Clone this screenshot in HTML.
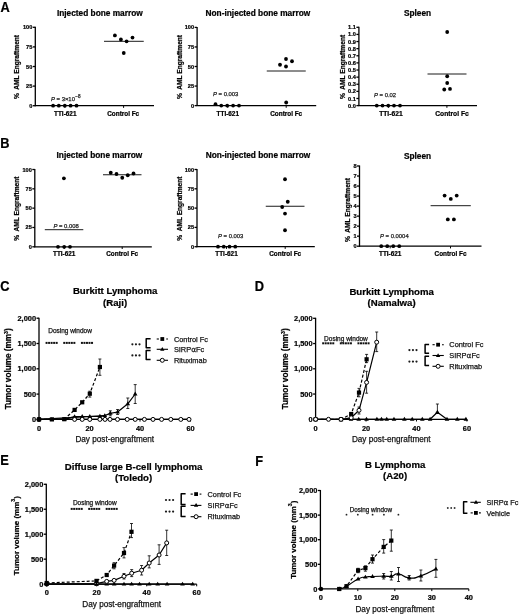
<!DOCTYPE html>
<html><head><meta charset="utf-8"><style>
html,body{margin:0;padding:0;background:#fff;}
svg{display:block;}
text{font-family:'Liberation Sans', Arial, sans-serif;}
</style></head><body>
<svg width="520" height="614" viewBox="0 0 520 614">
<rect width="520" height="614" fill="#fff"/>
<text transform="translate(0.5,12.3) scale(1,1.1)" x="0" y="0" font-size="12.8" font-weight="700" stroke="#000" stroke-width="0.22">A</text>
<text transform="translate(0.3,147.5) scale(1,1.1)" x="0" y="0" font-size="12.8" font-weight="700" stroke="#000" stroke-width="0.22">B</text>
<text transform="translate(0.3,290.5) scale(1,1.1)" x="0" y="0" font-size="12.8" font-weight="700" stroke="#000" stroke-width="0.22">C</text>
<text transform="translate(254.8,291) scale(1,1.1)" x="0" y="0" font-size="12.8" font-weight="700" stroke="#000" stroke-width="0.22">D</text>
<text transform="translate(0.3,465) scale(1,1.1)" x="0" y="0" font-size="12.8" font-weight="700" stroke="#000" stroke-width="0.22">E</text>
<text transform="translate(255.2,465.5) scale(1,1.1)" x="0" y="0" font-size="12.8" font-weight="700" stroke="#000" stroke-width="0.22">F</text>
<line x1="35.30" y1="26.80" x2="35.30" y2="106.20" stroke="#000" stroke-width="1.3"/>
<line x1="32.80" y1="105.70" x2="35.30" y2="105.70" stroke="#000" stroke-width="1.3"/>
<text x="32.30" y="107.72" font-size="5.6" font-weight="700" text-anchor="end" fill="#000" stroke="#000" stroke-width="0.22" >0</text>
<line x1="32.80" y1="86.10" x2="35.30" y2="86.10" stroke="#000" stroke-width="1.3"/>
<text x="32.30" y="88.12" font-size="5.6" font-weight="700" text-anchor="end" fill="#000" stroke="#000" stroke-width="0.22" >25</text>
<line x1="32.80" y1="66.50" x2="35.30" y2="66.50" stroke="#000" stroke-width="1.3"/>
<text x="32.30" y="68.52" font-size="5.6" font-weight="700" text-anchor="end" fill="#000" stroke="#000" stroke-width="0.22" >50</text>
<line x1="32.80" y1="46.90" x2="35.30" y2="46.90" stroke="#000" stroke-width="1.3"/>
<text x="32.30" y="48.92" font-size="5.6" font-weight="700" text-anchor="end" fill="#000" stroke="#000" stroke-width="0.22" >75</text>
<line x1="32.80" y1="27.30" x2="35.30" y2="27.30" stroke="#000" stroke-width="1.3"/>
<text x="32.30" y="29.32" font-size="5.6" font-weight="700" text-anchor="end" fill="#000" stroke="#000" stroke-width="0.22" >100</text>
<line x1="34.80" y1="105.70" x2="154.00" y2="105.70" stroke="#000" stroke-width="1.3"/>
<line x1="64.90" y1="105.70" x2="64.90" y2="107.90" stroke="#000" stroke-width="1.0"/>
<line x1="123.60" y1="105.70" x2="123.60" y2="107.90" stroke="#000" stroke-width="1.0"/>
<text x="65.25" y="115.80" font-size="6.4" font-weight="700" text-anchor="middle" fill="#000" stroke="#000" stroke-width="0.22" >TTI-621</text>
<text x="123.20" y="115.80" font-size="6.4" font-weight="700" text-anchor="middle" fill="#000" stroke="#000" stroke-width="0.22" >Control Fc</text>
<text x="99.80" y="15.60" font-size="8.3" font-weight="700" text-anchor="middle" fill="#000" stroke="#000" stroke-width="0.22" >Injected bone marrow</text>
<text transform="translate(19.18,67.00) rotate(-90)" x="0" y="0" font-size="6.6" font-weight="700" text-anchor="middle" stroke="#000" stroke-width="0.22">%&#160; AML Engraftment</text>
<line x1="104.00" y1="41.30" x2="143.75" y2="41.30" stroke="#000" stroke-width="0.9"/>
<circle cx="53.10" cy="105.70" r="1.9" fill="#000"/>
<circle cx="58.80" cy="105.70" r="1.9" fill="#000"/>
<circle cx="64.80" cy="105.70" r="1.9" fill="#000"/>
<circle cx="70.60" cy="105.70" r="1.9" fill="#000"/>
<circle cx="76.50" cy="105.70" r="1.9" fill="#000"/>
<circle cx="114.90" cy="35.40" r="1.9" fill="#000"/>
<circle cx="120.90" cy="39.50" r="1.9" fill="#000"/>
<circle cx="126.60" cy="41.30" r="1.9" fill="#000"/>
<circle cx="132.50" cy="37.60" r="1.9" fill="#000"/>
<circle cx="123.75" cy="53.00" r="1.9" fill="#000"/>
<text x="51.00" y="100.70" font-size="5.9" fill="#222" stroke="#222" stroke-width="0.25"><tspan font-style="italic">P</tspan> = 3×10<tspan font-size="4.6" dx="0.4" dy="-2.4">−8</tspan></text>
<line x1="197.10" y1="26.90" x2="197.10" y2="106.10" stroke="#000" stroke-width="1.3"/>
<line x1="194.60" y1="105.60" x2="197.10" y2="105.60" stroke="#000" stroke-width="1.3"/>
<text x="194.10" y="107.62" font-size="5.6" font-weight="700" text-anchor="end" fill="#000" stroke="#000" stroke-width="0.22" >0</text>
<line x1="194.60" y1="86.05" x2="197.10" y2="86.05" stroke="#000" stroke-width="1.3"/>
<text x="194.10" y="88.07" font-size="5.6" font-weight="700" text-anchor="end" fill="#000" stroke="#000" stroke-width="0.22" >25</text>
<line x1="194.60" y1="66.50" x2="197.10" y2="66.50" stroke="#000" stroke-width="1.3"/>
<text x="194.10" y="68.52" font-size="5.6" font-weight="700" text-anchor="end" fill="#000" stroke="#000" stroke-width="0.22" >50</text>
<line x1="194.60" y1="46.95" x2="197.10" y2="46.95" stroke="#000" stroke-width="1.3"/>
<text x="194.10" y="48.97" font-size="5.6" font-weight="700" text-anchor="end" fill="#000" stroke="#000" stroke-width="0.22" >75</text>
<line x1="194.60" y1="27.40" x2="197.10" y2="27.40" stroke="#000" stroke-width="1.3"/>
<text x="194.10" y="29.42" font-size="5.6" font-weight="700" text-anchor="end" fill="#000" stroke="#000" stroke-width="0.22" >100</text>
<line x1="196.60" y1="105.60" x2="316.20" y2="105.60" stroke="#000" stroke-width="1.3"/>
<line x1="227.80" y1="105.60" x2="227.80" y2="107.80" stroke="#000" stroke-width="1.0"/>
<line x1="286.20" y1="105.60" x2="286.20" y2="107.80" stroke="#000" stroke-width="1.0"/>
<text x="227.80" y="115.80" font-size="6.4" font-weight="700" text-anchor="middle" fill="#000" stroke="#000" stroke-width="0.22" >TTI-621</text>
<text x="286.20" y="115.80" font-size="6.4" font-weight="700" text-anchor="middle" fill="#000" stroke="#000" stroke-width="0.22" >Control Fc</text>
<text x="257.90" y="15.60" font-size="8.3" font-weight="700" text-anchor="middle" fill="#000" stroke="#000" stroke-width="0.22" >Non-injected bone marrow</text>
<text transform="translate(182.38,67.00) rotate(-90)" x="0" y="0" font-size="6.6" font-weight="700" text-anchor="middle" stroke="#000" stroke-width="0.22">%&#160; AML Engraftment</text>
<line x1="266.75" y1="71.00" x2="305.75" y2="71.00" stroke="#000" stroke-width="0.9"/>
<circle cx="215.50" cy="104.20" r="1.9" fill="#000"/>
<circle cx="221.25" cy="105.60" r="1.9" fill="#000"/>
<circle cx="227.20" cy="105.60" r="1.9" fill="#000"/>
<circle cx="233.10" cy="105.60" r="1.9" fill="#000"/>
<circle cx="239.00" cy="105.60" r="1.9" fill="#000"/>
<circle cx="280.00" cy="64.75" r="1.9" fill="#000"/>
<circle cx="286.00" cy="59.00" r="1.9" fill="#000"/>
<circle cx="286.00" cy="66.50" r="1.9" fill="#000"/>
<circle cx="292.00" cy="61.25" r="1.9" fill="#000"/>
<circle cx="286.20" cy="102.50" r="1.9" fill="#000"/>
<text x="213.00" y="96.30" font-size="5.9" fill="#222" stroke="#222" stroke-width="0.25"><tspan font-style="italic">P</tspan> = 0.003</text>
<line x1="358.90" y1="26.80" x2="358.90" y2="106.10" stroke="#000" stroke-width="1.3"/>
<line x1="356.40" y1="105.60" x2="358.90" y2="105.60" stroke="#000" stroke-width="1.3"/>
<text x="355.90" y="107.62" font-size="5.6" font-weight="700" text-anchor="end" fill="#000" stroke="#000" stroke-width="0.22" >0.0</text>
<line x1="356.40" y1="98.48" x2="358.90" y2="98.48" stroke="#000" stroke-width="1.3"/>
<text x="355.90" y="100.50" font-size="5.6" font-weight="700" text-anchor="end" fill="#000" stroke="#000" stroke-width="0.22" >0.1</text>
<line x1="356.40" y1="91.36" x2="358.90" y2="91.36" stroke="#000" stroke-width="1.3"/>
<text x="355.90" y="93.38" font-size="5.6" font-weight="700" text-anchor="end" fill="#000" stroke="#000" stroke-width="0.22" >0.2</text>
<line x1="356.40" y1="84.25" x2="358.90" y2="84.25" stroke="#000" stroke-width="1.3"/>
<text x="355.90" y="86.26" font-size="5.6" font-weight="700" text-anchor="end" fill="#000" stroke="#000" stroke-width="0.22" >0.3</text>
<line x1="356.40" y1="77.13" x2="358.90" y2="77.13" stroke="#000" stroke-width="1.3"/>
<text x="355.90" y="79.14" font-size="5.6" font-weight="700" text-anchor="end" fill="#000" stroke="#000" stroke-width="0.22" >0.4</text>
<line x1="356.40" y1="70.01" x2="358.90" y2="70.01" stroke="#000" stroke-width="1.3"/>
<text x="355.90" y="72.03" font-size="5.6" font-weight="700" text-anchor="end" fill="#000" stroke="#000" stroke-width="0.22" >0.5</text>
<line x1="356.40" y1="62.89" x2="358.90" y2="62.89" stroke="#000" stroke-width="1.3"/>
<text x="355.90" y="64.91" font-size="5.6" font-weight="700" text-anchor="end" fill="#000" stroke="#000" stroke-width="0.22" >0.6</text>
<line x1="356.40" y1="55.77" x2="358.90" y2="55.77" stroke="#000" stroke-width="1.3"/>
<text x="355.90" y="57.79" font-size="5.6" font-weight="700" text-anchor="end" fill="#000" stroke="#000" stroke-width="0.22" >0.7</text>
<line x1="356.40" y1="48.65" x2="358.90" y2="48.65" stroke="#000" stroke-width="1.3"/>
<text x="355.90" y="50.67" font-size="5.6" font-weight="700" text-anchor="end" fill="#000" stroke="#000" stroke-width="0.22" >0.8</text>
<line x1="356.40" y1="41.54" x2="358.90" y2="41.54" stroke="#000" stroke-width="1.3"/>
<text x="355.90" y="43.55" font-size="5.6" font-weight="700" text-anchor="end" fill="#000" stroke="#000" stroke-width="0.22" >0.9</text>
<line x1="356.40" y1="34.42" x2="358.90" y2="34.42" stroke="#000" stroke-width="1.3"/>
<text x="355.90" y="36.43" font-size="5.6" font-weight="700" text-anchor="end" fill="#000" stroke="#000" stroke-width="0.22" >1.0</text>
<line x1="356.40" y1="27.30" x2="358.90" y2="27.30" stroke="#000" stroke-width="1.3"/>
<text x="355.90" y="29.32" font-size="5.6" font-weight="700" text-anchor="end" fill="#000" stroke="#000" stroke-width="0.22" >1.1</text>
<line x1="358.40" y1="105.60" x2="477.00" y2="105.60" stroke="#000" stroke-width="1.3"/>
<line x1="388.60" y1="105.60" x2="388.60" y2="107.80" stroke="#000" stroke-width="1.0"/>
<line x1="446.90" y1="105.60" x2="446.90" y2="107.80" stroke="#000" stroke-width="1.0"/>
<text x="390.90" y="115.80" font-size="6.7" font-weight="700" text-anchor="middle" fill="#000" stroke="#000" stroke-width="0.22" >TTI-621</text>
<text x="452.00" y="115.80" font-size="6.7" font-weight="700" text-anchor="middle" fill="#000" stroke="#000" stroke-width="0.22" >Control Fc</text>
<text x="417.50" y="15.60" font-size="8.3" font-weight="700" text-anchor="middle" fill="#000" stroke="#000" stroke-width="0.22" >Spleen</text>
<text transform="translate(345.28,66.95) rotate(-90)" x="0" y="0" font-size="6.6" font-weight="700" text-anchor="middle" stroke="#000" stroke-width="0.22">%&#160; AML Engraftment</text>
<line x1="427.50" y1="74.00" x2="466.50" y2="74.00" stroke="#000" stroke-width="0.9"/>
<circle cx="376.75" cy="105.60" r="1.9" fill="#000"/>
<circle cx="382.50" cy="105.60" r="1.9" fill="#000"/>
<circle cx="388.25" cy="105.60" r="1.9" fill="#000"/>
<circle cx="394.00" cy="105.60" r="1.9" fill="#000"/>
<circle cx="400.00" cy="105.60" r="1.9" fill="#000"/>
<circle cx="447.20" cy="32.00" r="1.9" fill="#000"/>
<circle cx="447.20" cy="76.25" r="1.9" fill="#000"/>
<circle cx="447.20" cy="83.00" r="1.9" fill="#000"/>
<circle cx="444.25" cy="89.50" r="1.9" fill="#000"/>
<circle cx="450.00" cy="88.90" r="1.9" fill="#000"/>
<text x="374.00" y="96.50" font-size="5.9" fill="#222" stroke="#222" stroke-width="0.25"><tspan font-style="italic">P</tspan> = 0.02</text>
<line x1="34.80" y1="169.00" x2="34.80" y2="247.30" stroke="#000" stroke-width="1.3"/>
<line x1="32.30" y1="246.80" x2="34.80" y2="246.80" stroke="#000" stroke-width="1.3"/>
<text x="31.80" y="248.82" font-size="5.6" font-weight="700" text-anchor="end" fill="#000" stroke="#000" stroke-width="0.22" >0</text>
<line x1="32.30" y1="227.48" x2="34.80" y2="227.48" stroke="#000" stroke-width="1.3"/>
<text x="31.80" y="229.49" font-size="5.6" font-weight="700" text-anchor="end" fill="#000" stroke="#000" stroke-width="0.22" >25</text>
<line x1="32.30" y1="208.15" x2="34.80" y2="208.15" stroke="#000" stroke-width="1.3"/>
<text x="31.80" y="210.17" font-size="5.6" font-weight="700" text-anchor="end" fill="#000" stroke="#000" stroke-width="0.22" >50</text>
<line x1="32.30" y1="188.83" x2="34.80" y2="188.83" stroke="#000" stroke-width="1.3"/>
<text x="31.80" y="190.84" font-size="5.6" font-weight="700" text-anchor="end" fill="#000" stroke="#000" stroke-width="0.22" >75</text>
<line x1="32.30" y1="169.50" x2="34.80" y2="169.50" stroke="#000" stroke-width="1.3"/>
<text x="31.80" y="171.52" font-size="5.6" font-weight="700" text-anchor="end" fill="#000" stroke="#000" stroke-width="0.22" >100</text>
<line x1="34.30" y1="246.80" x2="151.80" y2="246.80" stroke="#000" stroke-width="1.3"/>
<line x1="64.20" y1="246.80" x2="64.20" y2="249.00" stroke="#000" stroke-width="1.0"/>
<line x1="122.20" y1="246.80" x2="122.20" y2="249.00" stroke="#000" stroke-width="1.0"/>
<text x="64.20" y="255.80" font-size="6.4" font-weight="700" text-anchor="middle" fill="#000" stroke="#000" stroke-width="0.22" >TTI-621</text>
<text x="122.20" y="255.80" font-size="6.4" font-weight="700" text-anchor="middle" fill="#000" stroke="#000" stroke-width="0.22" >Control Fc</text>
<text x="99.40" y="157.80" font-size="8.3" font-weight="700" text-anchor="middle" fill="#000" stroke="#000" stroke-width="0.22" >Injected bone marrow</text>
<text transform="translate(18.98,208.65) rotate(-90)" x="0" y="0" font-size="6.6" font-weight="700" text-anchor="middle" stroke="#000" stroke-width="0.22">%&#160; AML Engraftment</text>
<line x1="44.80" y1="229.70" x2="83.30" y2="229.70" stroke="#000" stroke-width="0.9"/>
<line x1="103.00" y1="174.75" x2="141.50" y2="174.75" stroke="#000" stroke-width="0.9"/>
<circle cx="58.00" cy="246.80" r="1.9" fill="#000"/>
<circle cx="64.20" cy="246.80" r="1.9" fill="#000"/>
<circle cx="70.00" cy="246.80" r="1.9" fill="#000"/>
<circle cx="63.90" cy="178.30" r="1.9" fill="#000"/>
<circle cx="110.75" cy="172.75" r="1.9" fill="#000"/>
<circle cx="116.50" cy="174.00" r="1.9" fill="#000"/>
<circle cx="122.25" cy="177.75" r="1.9" fill="#000"/>
<circle cx="127.75" cy="175.25" r="1.9" fill="#000"/>
<circle cx="133.50" cy="173.50" r="1.9" fill="#000"/>
<text x="53.40" y="227.70" font-size="5.9" fill="#222" stroke="#222" stroke-width="0.25"><tspan font-style="italic">P</tspan> = 0.008</text>
<line x1="197.00" y1="169.00" x2="197.00" y2="247.20" stroke="#000" stroke-width="1.3"/>
<line x1="194.50" y1="246.70" x2="197.00" y2="246.70" stroke="#000" stroke-width="1.3"/>
<text x="194.00" y="248.72" font-size="5.6" font-weight="700" text-anchor="end" fill="#000" stroke="#000" stroke-width="0.22" >0</text>
<line x1="194.50" y1="227.40" x2="197.00" y2="227.40" stroke="#000" stroke-width="1.3"/>
<text x="194.00" y="229.42" font-size="5.6" font-weight="700" text-anchor="end" fill="#000" stroke="#000" stroke-width="0.22" >25</text>
<line x1="194.50" y1="208.10" x2="197.00" y2="208.10" stroke="#000" stroke-width="1.3"/>
<text x="194.00" y="210.12" font-size="5.6" font-weight="700" text-anchor="end" fill="#000" stroke="#000" stroke-width="0.22" >50</text>
<line x1="194.50" y1="188.80" x2="197.00" y2="188.80" stroke="#000" stroke-width="1.3"/>
<text x="194.00" y="190.82" font-size="5.6" font-weight="700" text-anchor="end" fill="#000" stroke="#000" stroke-width="0.22" >75</text>
<line x1="194.50" y1="169.50" x2="197.00" y2="169.50" stroke="#000" stroke-width="1.3"/>
<text x="194.00" y="171.52" font-size="5.6" font-weight="700" text-anchor="end" fill="#000" stroke="#000" stroke-width="0.22" >100</text>
<line x1="196.50" y1="246.70" x2="314.80" y2="246.70" stroke="#000" stroke-width="1.3"/>
<line x1="226.50" y1="246.70" x2="226.50" y2="248.90" stroke="#000" stroke-width="1.0"/>
<line x1="285.20" y1="246.70" x2="285.20" y2="248.90" stroke="#000" stroke-width="1.0"/>
<text x="226.50" y="255.80" font-size="6.4" font-weight="700" text-anchor="middle" fill="#000" stroke="#000" stroke-width="0.22" >TTI-621</text>
<text x="285.20" y="255.80" font-size="6.4" font-weight="700" text-anchor="middle" fill="#000" stroke="#000" stroke-width="0.22" >Control Fc</text>
<text x="258.00" y="157.60" font-size="8.3" font-weight="700" text-anchor="middle" fill="#000" stroke="#000" stroke-width="0.22" >Non-injected bone marrow</text>
<text transform="translate(182.38,208.60) rotate(-90)" x="0" y="0" font-size="6.6" font-weight="700" text-anchor="middle" stroke="#000" stroke-width="0.22">%&#160; AML Engraftment</text>
<line x1="265.75" y1="206.25" x2="304.50" y2="206.25" stroke="#000" stroke-width="0.9"/>
<circle cx="218.00" cy="246.70" r="1.9" fill="#000"/>
<circle cx="223.75" cy="246.70" r="1.9" fill="#000"/>
<circle cx="229.50" cy="246.70" r="1.9" fill="#000"/>
<circle cx="235.25" cy="246.70" r="1.9" fill="#000"/>
<circle cx="285.00" cy="179.25" r="1.9" fill="#000"/>
<circle cx="287.75" cy="201.75" r="1.9" fill="#000"/>
<circle cx="282.20" cy="207.00" r="1.9" fill="#000"/>
<circle cx="285.00" cy="213.60" r="1.9" fill="#000"/>
<circle cx="285.00" cy="230.25" r="1.9" fill="#000"/>
<text x="218.00" y="238.00" font-size="5.9" fill="#222" stroke="#222" stroke-width="0.25"><tspan font-style="italic">P</tspan> = 0.003</text>
<line x1="359.50" y1="165.50" x2="359.50" y2="246.70" stroke="#000" stroke-width="1.3"/>
<line x1="357.00" y1="246.20" x2="359.50" y2="246.20" stroke="#000" stroke-width="1.3"/>
<text x="356.50" y="248.22" font-size="5.6" font-weight="700" text-anchor="end" fill="#000" stroke="#000" stroke-width="0.22" >0</text>
<line x1="357.00" y1="236.17" x2="359.50" y2="236.17" stroke="#000" stroke-width="1.3"/>
<text x="356.50" y="238.19" font-size="5.6" font-weight="700" text-anchor="end" fill="#000" stroke="#000" stroke-width="0.22" >1</text>
<line x1="357.00" y1="226.15" x2="359.50" y2="226.15" stroke="#000" stroke-width="1.3"/>
<text x="356.50" y="228.17" font-size="5.6" font-weight="700" text-anchor="end" fill="#000" stroke="#000" stroke-width="0.22" >2</text>
<line x1="357.00" y1="216.12" x2="359.50" y2="216.12" stroke="#000" stroke-width="1.3"/>
<text x="356.50" y="218.14" font-size="5.6" font-weight="700" text-anchor="end" fill="#000" stroke="#000" stroke-width="0.22" >3</text>
<line x1="357.00" y1="206.10" x2="359.50" y2="206.10" stroke="#000" stroke-width="1.3"/>
<text x="356.50" y="208.12" font-size="5.6" font-weight="700" text-anchor="end" fill="#000" stroke="#000" stroke-width="0.22" >4</text>
<line x1="357.00" y1="196.07" x2="359.50" y2="196.07" stroke="#000" stroke-width="1.3"/>
<text x="356.50" y="198.09" font-size="5.6" font-weight="700" text-anchor="end" fill="#000" stroke="#000" stroke-width="0.22" >5</text>
<line x1="357.00" y1="186.05" x2="359.50" y2="186.05" stroke="#000" stroke-width="1.3"/>
<text x="356.50" y="188.07" font-size="5.6" font-weight="700" text-anchor="end" fill="#000" stroke="#000" stroke-width="0.22" >6</text>
<line x1="357.00" y1="176.02" x2="359.50" y2="176.02" stroke="#000" stroke-width="1.3"/>
<text x="356.50" y="178.04" font-size="5.6" font-weight="700" text-anchor="end" fill="#000" stroke="#000" stroke-width="0.22" >7</text>
<line x1="357.00" y1="166.00" x2="359.50" y2="166.00" stroke="#000" stroke-width="1.3"/>
<text x="356.50" y="168.02" font-size="5.6" font-weight="700" text-anchor="end" fill="#000" stroke="#000" stroke-width="0.22" >8</text>
<line x1="359.00" y1="246.20" x2="481.50" y2="246.20" stroke="#000" stroke-width="1.3"/>
<line x1="390.20" y1="246.20" x2="390.20" y2="248.40" stroke="#000" stroke-width="1.0"/>
<line x1="450.50" y1="246.20" x2="450.50" y2="248.40" stroke="#000" stroke-width="1.0"/>
<text x="390.20" y="255.80" font-size="6.4" font-weight="700" text-anchor="middle" fill="#000" stroke="#000" stroke-width="0.22" >TTI-621</text>
<text x="450.50" y="255.80" font-size="6.4" font-weight="700" text-anchor="middle" fill="#000" stroke="#000" stroke-width="0.22" >Control Fc</text>
<text x="417.50" y="158.90" font-size="8.3" font-weight="700" text-anchor="middle" fill="#000" stroke="#000" stroke-width="0.22" >Spleen</text>
<text transform="translate(349.88,210.00) rotate(-90)" x="0" y="0" font-size="6.6" font-weight="700" text-anchor="middle" stroke="#000" stroke-width="0.22">%&#160; AML Engraftment</text>
<line x1="430.60" y1="205.70" x2="470.80" y2="205.70" stroke="#000" stroke-width="0.9"/>
<circle cx="381.25" cy="246.20" r="1.9" fill="#000"/>
<circle cx="387.25" cy="246.20" r="1.9" fill="#000"/>
<circle cx="393.25" cy="246.20" r="1.9" fill="#000"/>
<circle cx="399.25" cy="246.20" r="1.9" fill="#000"/>
<circle cx="444.60" cy="195.60" r="1.9" fill="#000"/>
<circle cx="450.80" cy="198.90" r="1.9" fill="#000"/>
<circle cx="456.70" cy="195.60" r="1.9" fill="#000"/>
<circle cx="447.80" cy="219.40" r="1.9" fill="#000"/>
<circle cx="453.90" cy="219.40" r="1.9" fill="#000"/>
<text x="380.00" y="238.00" font-size="5.9" fill="#222" stroke="#222" stroke-width="0.25"><tspan font-style="italic">P</tspan> = 0.0004</text>
<line x1="39.00" y1="317.70" x2="39.00" y2="419.90" stroke="#000" stroke-width="1.3"/>
<line x1="36.50" y1="419.40" x2="39.00" y2="419.40" stroke="#000" stroke-width="1.3"/>
<text x="36.00" y="422.06" font-size="7.4" font-weight="700" text-anchor="end" fill="#000" stroke="#000" stroke-width="0.22" >0</text>
<line x1="36.50" y1="394.10" x2="39.00" y2="394.10" stroke="#000" stroke-width="1.3"/>
<text x="36.00" y="396.76" font-size="7.4" font-weight="700" text-anchor="end" fill="#000" stroke="#000" stroke-width="0.22" >500</text>
<line x1="36.50" y1="368.80" x2="39.00" y2="368.80" stroke="#000" stroke-width="1.3"/>
<text x="36.00" y="371.46" font-size="7.4" font-weight="700" text-anchor="end" fill="#000" stroke="#000" stroke-width="0.22" >1,000</text>
<line x1="36.50" y1="343.50" x2="39.00" y2="343.50" stroke="#000" stroke-width="1.3"/>
<text x="36.00" y="346.16" font-size="7.4" font-weight="700" text-anchor="end" fill="#000" stroke="#000" stroke-width="0.22" >1,500</text>
<line x1="36.50" y1="318.20" x2="39.00" y2="318.20" stroke="#000" stroke-width="1.3"/>
<text x="36.00" y="320.86" font-size="7.4" font-weight="700" text-anchor="end" fill="#000" stroke="#000" stroke-width="0.22" >2,000</text>
<line x1="38.50" y1="419.40" x2="190.50" y2="419.40" stroke="#000" stroke-width="1.3"/>
<line x1="39.00" y1="419.40" x2="39.00" y2="421.60" stroke="#000" stroke-width="1.0"/>
<text x="39.00" y="430.60" font-size="7.4" font-weight="700" text-anchor="middle" fill="#000" stroke="#000" stroke-width="0.22" >0</text>
<line x1="89.50" y1="419.40" x2="89.50" y2="421.60" stroke="#000" stroke-width="1.0"/>
<text x="89.50" y="430.60" font-size="7.4" font-weight="700" text-anchor="middle" fill="#000" stroke="#000" stroke-width="0.22" >20</text>
<line x1="140.00" y1="419.40" x2="140.00" y2="421.60" stroke="#000" stroke-width="1.0"/>
<text x="140.00" y="430.60" font-size="7.4" font-weight="700" text-anchor="middle" fill="#000" stroke="#000" stroke-width="0.22" >40</text>
<line x1="190.50" y1="419.40" x2="190.50" y2="421.60" stroke="#000" stroke-width="1.0"/>
<text x="190.50" y="430.60" font-size="7.4" font-weight="700" text-anchor="middle" fill="#000" stroke="#000" stroke-width="0.22" >60</text>
<text x="114.75" y="441.80" font-size="8.2" font-weight="400" text-anchor="middle" fill="#151515" stroke="#151515" stroke-width="0.25" >Day post-engraftment</text>
<text transform="translate(11.45,368.80) rotate(-90)" x="0" y="0" font-size="8.2" font-weight="700" text-anchor="middle" stroke="#000" stroke-width="0.22">Tumor volume (mm<tspan font-size="5.2" dy="-3.2">3</tspan><tspan dy="3.2">)</tspan></text>
<text x="115.10" y="294.40" font-size="9.6" font-weight="700" text-anchor="middle" fill="#000" stroke="#000" stroke-width="0.22" >Burkitt Lymphoma</text>
<text x="115.10" y="305.90" font-size="9.6" font-weight="700" text-anchor="middle" fill="#000" stroke="#000" stroke-width="0.22" >(Raji)</text>
<text x="48.20" y="332.80" font-size="6.5" font-weight="400" text-anchor="start" fill="#151515" stroke="#151515" stroke-width="0.25" >Dosing window</text>
<rect x="45.58" y="341.90" width="2.0" height="2.0" fill="#111"/>
<rect x="48.10" y="341.90" width="2.0" height="2.0" fill="#111"/>
<rect x="50.62" y="341.90" width="2.0" height="2.0" fill="#111"/>
<rect x="53.15" y="341.90" width="2.0" height="2.0" fill="#111"/>
<rect x="55.67" y="341.90" width="2.0" height="2.0" fill="#111"/>
<rect x="63.25" y="341.90" width="2.0" height="2.0" fill="#111"/>
<rect x="65.78" y="341.90" width="2.0" height="2.0" fill="#111"/>
<rect x="68.30" y="341.90" width="2.0" height="2.0" fill="#111"/>
<rect x="70.82" y="341.90" width="2.0" height="2.0" fill="#111"/>
<rect x="73.35" y="341.90" width="2.0" height="2.0" fill="#111"/>
<rect x="80.92" y="341.90" width="2.0" height="2.0" fill="#111"/>
<rect x="83.45" y="341.90" width="2.0" height="2.0" fill="#111"/>
<rect x="85.97" y="341.90" width="2.0" height="2.0" fill="#111"/>
<rect x="88.50" y="341.90" width="2.0" height="2.0" fill="#111"/>
<rect x="91.03" y="341.90" width="2.0" height="2.0" fill="#111"/>
<polyline points="39.00,419.40 104.80,415.60" fill="none" stroke="#000" stroke-width="1.2" stroke-linejoin="round"/>
<polyline points="39.00,419.40 51.90,419.40 64.30,419.40 74.60,416.70 82.20,416.50 89.80,416.50 99.90,416.30 104.80,415.60 110.30,413.30 117.60,412.00 127.80,403.80 135.20,394.00" fill="none" stroke="#000" stroke-width="1.2" stroke-linejoin="round"/>
<line x1="110.30" y1="410.80" x2="110.30" y2="415.80" stroke="#000" stroke-width="0.8"/>
<line x1="108.80" y1="410.80" x2="111.80" y2="410.80" stroke="#000" stroke-width="0.8"/>
<line x1="108.80" y1="415.80" x2="111.80" y2="415.80" stroke="#000" stroke-width="0.8"/>
<line x1="117.60" y1="409.50" x2="117.60" y2="414.50" stroke="#000" stroke-width="0.8"/>
<line x1="116.10" y1="409.50" x2="119.10" y2="409.50" stroke="#000" stroke-width="0.8"/>
<line x1="116.10" y1="414.50" x2="119.10" y2="414.50" stroke="#000" stroke-width="0.8"/>
<line x1="127.80" y1="398.00" x2="127.80" y2="408.50" stroke="#000" stroke-width="0.8"/>
<line x1="126.30" y1="398.00" x2="129.30" y2="398.00" stroke="#000" stroke-width="0.8"/>
<line x1="126.30" y1="408.50" x2="129.30" y2="408.50" stroke="#000" stroke-width="0.8"/>
<line x1="135.20" y1="384.60" x2="135.20" y2="403.50" stroke="#000" stroke-width="0.8"/>
<line x1="133.70" y1="384.60" x2="136.70" y2="384.60" stroke="#000" stroke-width="0.8"/>
<line x1="133.70" y1="403.50" x2="136.70" y2="403.50" stroke="#000" stroke-width="0.8"/>
<polygon points="39.00,416.93 36.70,420.91 41.30,420.91" fill="#000"/>
<polygon points="51.90,416.93 49.60,420.91 54.20,420.91" fill="#000"/>
<polygon points="64.30,416.93 62.00,420.91 66.60,420.91" fill="#000"/>
<polygon points="74.60,414.23 72.30,418.21 76.90,418.21" fill="#000"/>
<polygon points="82.20,414.03 79.90,418.01 84.50,418.01" fill="#000"/>
<polygon points="89.80,414.03 87.50,418.01 92.10,418.01" fill="#000"/>
<polygon points="99.90,413.83 97.60,417.81 102.20,417.81" fill="#000"/>
<polygon points="104.80,413.13 102.50,417.11 107.10,417.11" fill="#000"/>
<polygon points="110.30,410.83 108.00,414.81 112.60,414.81" fill="#000"/>
<polygon points="117.60,409.53 115.30,413.51 119.90,413.51" fill="#000"/>
<polygon points="127.80,401.33 125.50,405.31 130.10,405.31" fill="#000"/>
<polygon points="135.20,391.53 132.90,395.51 137.50,395.51" fill="#000"/>
<polyline points="39.00,419.40 74.60,419.40 82.20,419.40 89.80,419.40 99.90,419.40 105.00,419.40 110.00,419.40 117.50,419.40 127.20,419.40 135.20,419.40 144.40,419.40 153.00,419.40 161.60,419.40 170.80,419.40 180.80,419.40 189.00,419.40" fill="none" stroke="#000" stroke-width="1.2" stroke-linejoin="round"/>
<circle cx="39.00" cy="419.40" r="2.0" fill="#fff" stroke="#000" stroke-width="1.0"/>
<circle cx="74.60" cy="419.40" r="2.0" fill="#fff" stroke="#000" stroke-width="1.0"/>
<circle cx="82.20" cy="419.40" r="2.0" fill="#fff" stroke="#000" stroke-width="1.0"/>
<circle cx="89.80" cy="419.40" r="2.0" fill="#fff" stroke="#000" stroke-width="1.0"/>
<circle cx="99.90" cy="419.40" r="2.0" fill="#fff" stroke="#000" stroke-width="1.0"/>
<circle cx="105.00" cy="419.40" r="2.0" fill="#fff" stroke="#000" stroke-width="1.0"/>
<circle cx="110.00" cy="419.40" r="2.0" fill="#fff" stroke="#000" stroke-width="1.0"/>
<circle cx="117.50" cy="419.40" r="2.0" fill="#fff" stroke="#000" stroke-width="1.0"/>
<circle cx="127.20" cy="419.40" r="2.0" fill="#fff" stroke="#000" stroke-width="1.0"/>
<circle cx="135.20" cy="419.40" r="2.0" fill="#fff" stroke="#000" stroke-width="1.0"/>
<circle cx="144.40" cy="419.40" r="2.0" fill="#fff" stroke="#000" stroke-width="1.0"/>
<circle cx="153.00" cy="419.40" r="2.0" fill="#fff" stroke="#000" stroke-width="1.0"/>
<circle cx="161.60" cy="419.40" r="2.0" fill="#fff" stroke="#000" stroke-width="1.0"/>
<circle cx="170.80" cy="419.40" r="2.0" fill="#fff" stroke="#000" stroke-width="1.0"/>
<circle cx="180.80" cy="419.40" r="2.0" fill="#fff" stroke="#000" stroke-width="1.0"/>
<circle cx="189.00" cy="419.40" r="2.0" fill="#fff" stroke="#000" stroke-width="1.0"/>
<polyline points="39.00,419.40 51.90,419.40 64.30,419.20 74.60,409.90 82.20,402.30 89.80,393.70 99.90,367.00" fill="none" stroke="#000" stroke-width="1.2" stroke-linejoin="round" stroke-dasharray="3.0 2.0"/>
<line x1="89.80" y1="391.20" x2="89.80" y2="397.10" stroke="#000" stroke-width="0.8"/>
<line x1="88.30" y1="391.20" x2="91.30" y2="391.20" stroke="#000" stroke-width="0.8"/>
<line x1="88.30" y1="397.10" x2="91.30" y2="397.10" stroke="#000" stroke-width="0.8"/>
<line x1="99.90" y1="359.00" x2="99.90" y2="375.30" stroke="#000" stroke-width="0.8"/>
<line x1="98.40" y1="359.00" x2="101.40" y2="359.00" stroke="#000" stroke-width="0.8"/>
<line x1="98.40" y1="375.30" x2="101.40" y2="375.30" stroke="#000" stroke-width="0.8"/>
<rect x="36.90" y="417.30" width="4.2" height="4.2" fill="#000"/>
<rect x="49.80" y="417.30" width="4.2" height="4.2" fill="#000"/>
<rect x="62.20" y="417.10" width="4.2" height="4.2" fill="#000"/>
<rect x="72.50" y="407.80" width="4.2" height="4.2" fill="#000"/>
<rect x="80.10" y="400.20" width="4.2" height="4.2" fill="#000"/>
<rect x="87.70" y="391.60" width="4.2" height="4.2" fill="#000"/>
<rect x="97.80" y="364.90" width="4.2" height="4.2" fill="#000"/>
<circle cx="39.00" cy="419.40" r="2.2" fill="#000"/>
<circle cx="132.40" cy="344.30" r="1.1" fill="#1a1a1a"/>
<circle cx="135.95" cy="344.30" r="1.1" fill="#1a1a1a"/>
<circle cx="139.50" cy="344.30" r="1.1" fill="#1a1a1a"/>
<circle cx="132.40" cy="355.40" r="1.1" fill="#1a1a1a"/>
<circle cx="135.95" cy="355.40" r="1.1" fill="#1a1a1a"/>
<circle cx="139.50" cy="355.40" r="1.1" fill="#1a1a1a"/>
<polyline points="150.60,338.80 146.20,338.80 146.20,347.70 150.60,347.70" fill="none" stroke="#000" stroke-width="1.5" stroke-linejoin="round"/>
<polyline points="150.60,350.60 146.20,350.60 146.20,359.40 150.60,359.40" fill="none" stroke="#000" stroke-width="1.5" stroke-linejoin="round"/>
<line x1="156.70" y1="339.00" x2="158.90" y2="339.00" stroke="#000" stroke-width="1.1"/>
<line x1="166.20" y1="339.00" x2="168.00" y2="339.00" stroke="#000" stroke-width="1.1"/>
<rect x="160.40" y="337.10" width="3.8" height="3.8" fill="#000"/>
<text x="173.90" y="341.70" font-size="7.4" font-weight="400" text-anchor="start" fill="#151515" stroke="#151515" stroke-width="0.25" >Control Fc</text>
<line x1="156.70" y1="349.30" x2="168.00" y2="349.30" stroke="#000" stroke-width="1.1"/>
<polygon points="162.30,346.99 160.15,350.72 164.45,350.72" fill="#000"/>
<text x="173.90" y="352.00" font-size="7.4" font-weight="400" text-anchor="start" fill="#151515" stroke="#151515" stroke-width="0.25" >SIRP<tspan font-family="DejaVu Sans">α</tspan>Fc</text>
<line x1="156.70" y1="360.30" x2="168.00" y2="360.30" stroke="#000" stroke-width="1.1"/>
<circle cx="162.30" cy="360.30" r="2.0" fill="#fff" stroke="#000" stroke-width="1.0"/>
<text x="173.90" y="363.00" font-size="7.4" font-weight="400" text-anchor="start" fill="#151515" stroke="#151515" stroke-width="0.25" >Rituximab</text>
<line x1="315.60" y1="317.80" x2="315.60" y2="419.80" stroke="#000" stroke-width="1.3"/>
<line x1="313.10" y1="419.30" x2="315.60" y2="419.30" stroke="#000" stroke-width="1.3"/>
<text x="312.60" y="421.96" font-size="7.4" font-weight="700" text-anchor="end" fill="#000" stroke="#000" stroke-width="0.22" >0</text>
<line x1="313.10" y1="394.05" x2="315.60" y2="394.05" stroke="#000" stroke-width="1.3"/>
<text x="312.60" y="396.71" font-size="7.4" font-weight="700" text-anchor="end" fill="#000" stroke="#000" stroke-width="0.22" >500</text>
<line x1="313.10" y1="368.80" x2="315.60" y2="368.80" stroke="#000" stroke-width="1.3"/>
<text x="312.60" y="371.46" font-size="7.4" font-weight="700" text-anchor="end" fill="#000" stroke="#000" stroke-width="0.22" >1,000</text>
<line x1="313.10" y1="343.55" x2="315.60" y2="343.55" stroke="#000" stroke-width="1.3"/>
<text x="312.60" y="346.21" font-size="7.4" font-weight="700" text-anchor="end" fill="#000" stroke="#000" stroke-width="0.22" >1,500</text>
<line x1="313.10" y1="318.30" x2="315.60" y2="318.30" stroke="#000" stroke-width="1.3"/>
<text x="312.60" y="320.96" font-size="7.4" font-weight="700" text-anchor="end" fill="#000" stroke="#000" stroke-width="0.22" >2,000</text>
<line x1="315.10" y1="419.30" x2="466.92" y2="419.30" stroke="#000" stroke-width="1.3"/>
<line x1="315.60" y1="419.30" x2="315.60" y2="421.50" stroke="#000" stroke-width="1.0"/>
<text x="315.60" y="430.60" font-size="7.4" font-weight="700" text-anchor="middle" fill="#000" stroke="#000" stroke-width="0.22" >0</text>
<line x1="366.04" y1="419.30" x2="366.04" y2="421.50" stroke="#000" stroke-width="1.0"/>
<text x="366.04" y="430.60" font-size="7.4" font-weight="700" text-anchor="middle" fill="#000" stroke="#000" stroke-width="0.22" >20</text>
<line x1="416.48" y1="419.30" x2="416.48" y2="421.50" stroke="#000" stroke-width="1.0"/>
<text x="416.48" y="430.60" font-size="7.4" font-weight="700" text-anchor="middle" fill="#000" stroke="#000" stroke-width="0.22" >40</text>
<line x1="466.92" y1="419.30" x2="466.92" y2="421.50" stroke="#000" stroke-width="1.0"/>
<text x="466.92" y="430.60" font-size="7.4" font-weight="700" text-anchor="middle" fill="#000" stroke="#000" stroke-width="0.22" >60</text>
<text x="391.26" y="442.00" font-size="8.2" font-weight="400" text-anchor="middle" fill="#151515" stroke="#151515" stroke-width="0.25" >Day post-engraftment</text>
<text transform="translate(287.75,368.80) rotate(-90)" x="0" y="0" font-size="8.2" font-weight="700" text-anchor="middle" stroke="#000" stroke-width="0.22">Tumor volume (mm<tspan font-size="5.2" dy="-3.2">3</tspan><tspan dy="3.2">)</tspan></text>
<text x="391.60" y="294.70" font-size="9.6" font-weight="700" text-anchor="middle" fill="#000" stroke="#000" stroke-width="0.22" >Burkitt Lymphoma</text>
<text x="391.60" y="306.00" font-size="9.6" font-weight="700" text-anchor="middle" fill="#000" stroke="#000" stroke-width="0.22" >(Namalwa)</text>
<text x="324.10" y="340.60" font-size="6.5" font-weight="400" text-anchor="start" fill="#151515" stroke="#151515" stroke-width="0.25" >Dosing window</text>
<rect x="322.17" y="342.30" width="2.0" height="2.0" fill="#111"/>
<rect x="324.69" y="342.30" width="2.0" height="2.0" fill="#111"/>
<rect x="327.21" y="342.30" width="2.0" height="2.0" fill="#111"/>
<rect x="329.73" y="342.30" width="2.0" height="2.0" fill="#111"/>
<rect x="332.25" y="342.30" width="2.0" height="2.0" fill="#111"/>
<rect x="339.82" y="342.30" width="2.0" height="2.0" fill="#111"/>
<rect x="342.34" y="342.30" width="2.0" height="2.0" fill="#111"/>
<rect x="344.86" y="342.30" width="2.0" height="2.0" fill="#111"/>
<rect x="347.39" y="342.30" width="2.0" height="2.0" fill="#111"/>
<rect x="349.91" y="342.30" width="2.0" height="2.0" fill="#111"/>
<rect x="357.47" y="342.30" width="2.0" height="2.0" fill="#111"/>
<rect x="360.00" y="342.30" width="2.0" height="2.0" fill="#111"/>
<rect x="362.52" y="342.30" width="2.0" height="2.0" fill="#111"/>
<rect x="365.04" y="342.30" width="2.0" height="2.0" fill="#111"/>
<rect x="367.56" y="342.30" width="2.0" height="2.0" fill="#111"/>
<polyline points="315.60,419.30 351.00,419.30 358.70,419.30 366.50,419.30 376.90,419.30 381.50,419.30 386.70,419.30 394.00,419.30 404.40,419.30 412.20,419.30 422.30,419.30 430.10,419.30 437.40,412.30 447.00,419.30 457.30,419.30 465.90,419.30" fill="none" stroke="#000" stroke-width="1.2" stroke-linejoin="round"/>
<line x1="437.40" y1="404.00" x2="437.40" y2="412.30" stroke="#000" stroke-width="0.8"/>
<line x1="435.90" y1="404.00" x2="438.90" y2="404.00" stroke="#000" stroke-width="0.8"/>
<line x1="435.90" y1="412.30" x2="438.90" y2="412.30" stroke="#000" stroke-width="0.8"/>
<polygon points="315.60,416.83 313.30,420.81 317.90,420.81" fill="#000"/>
<polygon points="351.00,416.83 348.70,420.81 353.30,420.81" fill="#000"/>
<polygon points="358.70,416.83 356.40,420.81 361.00,420.81" fill="#000"/>
<polygon points="366.50,416.83 364.20,420.81 368.80,420.81" fill="#000"/>
<polygon points="376.90,416.83 374.60,420.81 379.20,420.81" fill="#000"/>
<polygon points="381.50,416.83 379.20,420.81 383.80,420.81" fill="#000"/>
<polygon points="386.70,416.83 384.40,420.81 389.00,420.81" fill="#000"/>
<polygon points="394.00,416.83 391.70,420.81 396.30,420.81" fill="#000"/>
<polygon points="404.40,416.83 402.10,420.81 406.70,420.81" fill="#000"/>
<polygon points="412.20,416.83 409.90,420.81 414.50,420.81" fill="#000"/>
<polygon points="422.30,416.83 420.00,420.81 424.60,420.81" fill="#000"/>
<polygon points="430.10,416.83 427.80,420.81 432.40,420.81" fill="#000"/>
<polygon points="437.40,409.83 435.10,413.81 439.70,413.81" fill="#000"/>
<polygon points="447.00,416.83 444.70,420.81 449.30,420.81" fill="#000"/>
<polygon points="457.30,416.83 455.00,420.81 459.60,420.81" fill="#000"/>
<polygon points="465.90,416.83 463.60,420.81 468.20,420.81" fill="#000"/>
<polyline points="315.60,419.30 341.00,419.30 351.20,414.00 359.00,392.60 366.60,359.30" fill="none" stroke="#000" stroke-width="1.2" stroke-linejoin="round" stroke-dasharray="3.0 2.0"/>
<line x1="359.00" y1="388.40" x2="359.00" y2="396.80" stroke="#000" stroke-width="0.8"/>
<line x1="357.50" y1="388.40" x2="360.50" y2="388.40" stroke="#000" stroke-width="0.8"/>
<line x1="357.50" y1="396.80" x2="360.50" y2="396.80" stroke="#000" stroke-width="0.8"/>
<line x1="366.60" y1="354.40" x2="366.60" y2="362.60" stroke="#000" stroke-width="0.8"/>
<line x1="365.10" y1="354.40" x2="368.10" y2="354.40" stroke="#000" stroke-width="0.8"/>
<line x1="365.10" y1="362.60" x2="368.10" y2="362.60" stroke="#000" stroke-width="0.8"/>
<rect x="313.50" y="417.20" width="4.2" height="4.2" fill="#000"/>
<rect x="338.90" y="417.20" width="4.2" height="4.2" fill="#000"/>
<rect x="349.10" y="411.90" width="4.2" height="4.2" fill="#000"/>
<rect x="356.90" y="390.50" width="4.2" height="4.2" fill="#000"/>
<rect x="364.50" y="357.20" width="4.2" height="4.2" fill="#000"/>
<polyline points="315.60,419.30 328.50,419.30 341.00,419.30 351.20,417.80 359.00,410.30 366.60,382.40 376.70,342.20" fill="none" stroke="#000" stroke-width="1.2" stroke-linejoin="round"/>
<line x1="359.00" y1="407.00" x2="359.00" y2="414.00" stroke="#000" stroke-width="0.8"/>
<line x1="357.50" y1="407.00" x2="360.50" y2="407.00" stroke="#000" stroke-width="0.8"/>
<line x1="357.50" y1="414.00" x2="360.50" y2="414.00" stroke="#000" stroke-width="0.8"/>
<line x1="366.60" y1="371.30" x2="366.60" y2="393.20" stroke="#000" stroke-width="0.8"/>
<line x1="365.10" y1="371.30" x2="368.10" y2="371.30" stroke="#000" stroke-width="0.8"/>
<line x1="365.10" y1="393.20" x2="368.10" y2="393.20" stroke="#000" stroke-width="0.8"/>
<line x1="376.70" y1="332.00" x2="376.70" y2="351.60" stroke="#000" stroke-width="0.8"/>
<line x1="375.20" y1="332.00" x2="378.20" y2="332.00" stroke="#000" stroke-width="0.8"/>
<line x1="375.20" y1="351.60" x2="378.20" y2="351.60" stroke="#000" stroke-width="0.8"/>
<circle cx="315.60" cy="419.30" r="2.0" fill="#fff" stroke="#000" stroke-width="1.0"/>
<circle cx="328.50" cy="419.30" r="2.0" fill="#fff" stroke="#000" stroke-width="1.0"/>
<circle cx="341.00" cy="419.30" r="2.0" fill="#fff" stroke="#000" stroke-width="1.0"/>
<circle cx="351.20" cy="417.80" r="2.0" fill="#fff" stroke="#000" stroke-width="1.0"/>
<circle cx="359.00" cy="410.30" r="2.0" fill="#fff" stroke="#000" stroke-width="1.0"/>
<circle cx="366.60" cy="382.40" r="2.0" fill="#fff" stroke="#000" stroke-width="1.0"/>
<circle cx="376.70" cy="342.20" r="2.0" fill="#fff" stroke="#000" stroke-width="1.0"/>
<circle cx="409.40" cy="350.10" r="1.1" fill="#1a1a1a"/>
<circle cx="412.95" cy="350.10" r="1.1" fill="#1a1a1a"/>
<circle cx="416.50" cy="350.10" r="1.1" fill="#1a1a1a"/>
<circle cx="409.40" cy="361.60" r="1.1" fill="#1a1a1a"/>
<circle cx="412.95" cy="361.60" r="1.1" fill="#1a1a1a"/>
<circle cx="416.50" cy="361.60" r="1.1" fill="#1a1a1a"/>
<polyline points="429.10,344.40 425.10,344.40 425.10,353.30 429.10,353.30" fill="none" stroke="#000" stroke-width="1.5" stroke-linejoin="round"/>
<polyline points="429.10,356.20 425.10,356.20 425.10,365.40 429.10,365.40" fill="none" stroke="#000" stroke-width="1.5" stroke-linejoin="round"/>
<line x1="432.50" y1="344.70" x2="434.70" y2="344.70" stroke="#000" stroke-width="1.1"/>
<line x1="442.00" y1="344.70" x2="443.80" y2="344.70" stroke="#000" stroke-width="1.1"/>
<rect x="436.20" y="342.80" width="3.8" height="3.8" fill="#000"/>
<text x="449.30" y="347.40" font-size="7.4" font-weight="400" text-anchor="start" fill="#151515" stroke="#151515" stroke-width="0.25" >Control Fc</text>
<line x1="432.50" y1="355.50" x2="443.80" y2="355.50" stroke="#000" stroke-width="1.1"/>
<polygon points="438.10,353.19 435.95,356.92 440.25,356.92" fill="#000"/>
<text x="449.30" y="358.20" font-size="7.4" font-weight="400" text-anchor="start" fill="#151515" stroke="#151515" stroke-width="0.25" >SIRP<tspan font-family="DejaVu Sans">α</tspan>Fc</text>
<line x1="432.50" y1="366.30" x2="443.80" y2="366.30" stroke="#000" stroke-width="1.1"/>
<circle cx="438.10" cy="366.30" r="2.0" fill="#fff" stroke="#000" stroke-width="1.0"/>
<text x="449.30" y="369.00" font-size="7.4" font-weight="400" text-anchor="start" fill="#151515" stroke="#151515" stroke-width="0.25" >Rituximab</text>
<line x1="46.30" y1="483.80" x2="46.30" y2="584.60" stroke="#000" stroke-width="1.3"/>
<line x1="43.80" y1="584.10" x2="46.30" y2="584.10" stroke="#000" stroke-width="1.3"/>
<text x="43.30" y="586.76" font-size="7.4" font-weight="700" text-anchor="end" fill="#000" stroke="#000" stroke-width="0.22" >0</text>
<line x1="43.80" y1="559.15" x2="46.30" y2="559.15" stroke="#000" stroke-width="1.3"/>
<text x="43.30" y="561.81" font-size="7.4" font-weight="700" text-anchor="end" fill="#000" stroke="#000" stroke-width="0.22" >500</text>
<line x1="43.80" y1="534.20" x2="46.30" y2="534.20" stroke="#000" stroke-width="1.3"/>
<text x="43.30" y="536.86" font-size="7.4" font-weight="700" text-anchor="end" fill="#000" stroke="#000" stroke-width="0.22" >1,000</text>
<line x1="43.80" y1="509.25" x2="46.30" y2="509.25" stroke="#000" stroke-width="1.3"/>
<text x="43.30" y="511.91" font-size="7.4" font-weight="700" text-anchor="end" fill="#000" stroke="#000" stroke-width="0.22" >1,500</text>
<line x1="43.80" y1="484.30" x2="46.30" y2="484.30" stroke="#000" stroke-width="1.3"/>
<text x="43.30" y="486.96" font-size="7.4" font-weight="700" text-anchor="end" fill="#000" stroke="#000" stroke-width="0.22" >2,000</text>
<line x1="45.80" y1="584.10" x2="196.70" y2="584.10" stroke="#000" stroke-width="1.3"/>
<line x1="46.70" y1="584.10" x2="46.70" y2="586.30" stroke="#000" stroke-width="1.0"/>
<text x="46.70" y="595.30" font-size="7.4" font-weight="700" text-anchor="middle" fill="#000" stroke="#000" stroke-width="0.22" >0</text>
<line x1="96.70" y1="584.10" x2="96.70" y2="586.30" stroke="#000" stroke-width="1.0"/>
<text x="96.70" y="595.30" font-size="7.4" font-weight="700" text-anchor="middle" fill="#000" stroke="#000" stroke-width="0.22" >20</text>
<line x1="146.70" y1="584.10" x2="146.70" y2="586.30" stroke="#000" stroke-width="1.0"/>
<text x="146.70" y="595.30" font-size="7.4" font-weight="700" text-anchor="middle" fill="#000" stroke="#000" stroke-width="0.22" >40</text>
<line x1="196.70" y1="584.10" x2="196.70" y2="586.30" stroke="#000" stroke-width="1.0"/>
<text x="196.70" y="595.30" font-size="7.4" font-weight="700" text-anchor="middle" fill="#000" stroke="#000" stroke-width="0.22" >60</text>
<text x="121.70" y="607.30" font-size="8.2" font-weight="400" text-anchor="middle" fill="#151515" stroke="#151515" stroke-width="0.25" >Day post-engraftment</text>
<text transform="translate(18.58,535.70) rotate(-90)" x="0" y="0" font-size="8.0" font-weight="700" text-anchor="middle" stroke="#000" stroke-width="0.22">Tumor volume (mm<tspan font-size="5.2" dy="-3.2">3</tspan><tspan dy="3.2">)</tspan></text>
<text x="133.60" y="469.50" font-size="9.6" font-weight="700" text-anchor="middle" fill="#000" stroke="#000" stroke-width="0.22" >Diffuse large B-cell lymphoma</text>
<text x="133.60" y="481.40" font-size="9.6" font-weight="700" text-anchor="middle" fill="#000" stroke="#000" stroke-width="0.22" >(Toledo)</text>
<text x="72.90" y="504.90" font-size="6.5" font-weight="400" text-anchor="start" fill="#151515" stroke="#151515" stroke-width="0.25" >Dosing window</text>
<rect x="70.70" y="507.90" width="2.0" height="2.0" fill="#111"/>
<rect x="73.20" y="507.90" width="2.0" height="2.0" fill="#111"/>
<rect x="75.70" y="507.90" width="2.0" height="2.0" fill="#111"/>
<rect x="78.20" y="507.90" width="2.0" height="2.0" fill="#111"/>
<rect x="80.70" y="507.90" width="2.0" height="2.0" fill="#111"/>
<rect x="88.20" y="507.90" width="2.0" height="2.0" fill="#111"/>
<rect x="90.70" y="507.90" width="2.0" height="2.0" fill="#111"/>
<rect x="93.20" y="507.90" width="2.0" height="2.0" fill="#111"/>
<rect x="95.70" y="507.90" width="2.0" height="2.0" fill="#111"/>
<rect x="98.20" y="507.90" width="2.0" height="2.0" fill="#111"/>
<rect x="105.70" y="507.90" width="2.0" height="2.0" fill="#111"/>
<rect x="108.20" y="507.90" width="2.0" height="2.0" fill="#111"/>
<rect x="110.70" y="507.90" width="2.0" height="2.0" fill="#111"/>
<rect x="113.20" y="507.90" width="2.0" height="2.0" fill="#111"/>
<rect x="115.70" y="507.90" width="2.0" height="2.0" fill="#111"/>
<polyline points="46.70,584.10 96.50,584.10 106.70,584.10 114.20,584.10 124.00,584.10 131.60,584.10 139.50,584.10 149.20,584.10 157.70,584.10 167.10,584.10 182.50,584.10 192.70,584.10" fill="none" stroke="#000" stroke-width="1.2" stroke-linejoin="round"/>
<polygon points="46.70,581.63 44.40,585.61 49.00,585.61" fill="#000"/>
<polygon points="96.50,581.63 94.20,585.61 98.80,585.61" fill="#000"/>
<polygon points="106.70,581.63 104.40,585.61 109.00,585.61" fill="#000"/>
<polygon points="114.20,581.63 111.90,585.61 116.50,585.61" fill="#000"/>
<polygon points="124.00,581.63 121.70,585.61 126.30,585.61" fill="#000"/>
<polygon points="131.60,581.63 129.30,585.61 133.90,585.61" fill="#000"/>
<polygon points="139.50,581.63 137.20,585.61 141.80,585.61" fill="#000"/>
<polygon points="149.20,581.63 146.90,585.61 151.50,585.61" fill="#000"/>
<polygon points="157.70,581.63 155.40,585.61 160.00,585.61" fill="#000"/>
<polygon points="167.10,581.63 164.80,585.61 169.40,585.61" fill="#000"/>
<polygon points="182.50,581.63 180.20,585.61 184.80,585.61" fill="#000"/>
<polygon points="192.70,581.63 190.40,585.61 195.00,585.61" fill="#000"/>
<polyline points="46.70,584.10 96.50,583.60 106.70,581.40 114.10,580.40 124.00,576.30 131.70,573.20 141.60,570.20 149.20,563.00 159.10,555.00 166.70,542.90" fill="none" stroke="#000" stroke-width="1.2" stroke-linejoin="round"/>
<line x1="124.00" y1="573.50" x2="124.00" y2="579.00" stroke="#000" stroke-width="0.8"/>
<line x1="122.50" y1="573.50" x2="125.50" y2="573.50" stroke="#000" stroke-width="0.8"/>
<line x1="122.50" y1="579.00" x2="125.50" y2="579.00" stroke="#000" stroke-width="0.8"/>
<line x1="131.70" y1="569.60" x2="131.70" y2="576.60" stroke="#000" stroke-width="0.8"/>
<line x1="130.20" y1="569.60" x2="133.20" y2="569.60" stroke="#000" stroke-width="0.8"/>
<line x1="130.20" y1="576.60" x2="133.20" y2="576.60" stroke="#000" stroke-width="0.8"/>
<line x1="141.60" y1="565.50" x2="141.60" y2="575.00" stroke="#000" stroke-width="0.8"/>
<line x1="140.10" y1="565.50" x2="143.10" y2="565.50" stroke="#000" stroke-width="0.8"/>
<line x1="140.10" y1="575.00" x2="143.10" y2="575.00" stroke="#000" stroke-width="0.8"/>
<line x1="149.20" y1="555.80" x2="149.20" y2="567.90" stroke="#000" stroke-width="0.8"/>
<line x1="147.70" y1="555.80" x2="150.70" y2="555.80" stroke="#000" stroke-width="0.8"/>
<line x1="147.70" y1="567.90" x2="150.70" y2="567.90" stroke="#000" stroke-width="0.8"/>
<line x1="159.10" y1="544.80" x2="159.10" y2="564.40" stroke="#000" stroke-width="0.8"/>
<line x1="157.60" y1="544.80" x2="160.60" y2="544.80" stroke="#000" stroke-width="0.8"/>
<line x1="157.60" y1="564.40" x2="160.60" y2="564.40" stroke="#000" stroke-width="0.8"/>
<line x1="166.70" y1="530.20" x2="166.70" y2="555.50" stroke="#000" stroke-width="0.8"/>
<line x1="165.20" y1="530.20" x2="168.20" y2="530.20" stroke="#000" stroke-width="0.8"/>
<line x1="165.20" y1="555.50" x2="168.20" y2="555.50" stroke="#000" stroke-width="0.8"/>
<circle cx="46.70" cy="584.10" r="2.0" fill="#fff" stroke="#000" stroke-width="1.0"/>
<circle cx="96.50" cy="583.60" r="2.0" fill="#fff" stroke="#000" stroke-width="1.0"/>
<circle cx="106.70" cy="581.40" r="2.0" fill="#fff" stroke="#000" stroke-width="1.0"/>
<circle cx="114.10" cy="580.40" r="2.0" fill="#fff" stroke="#000" stroke-width="1.0"/>
<circle cx="124.00" cy="576.30" r="2.0" fill="#fff" stroke="#000" stroke-width="1.0"/>
<circle cx="131.70" cy="573.20" r="2.0" fill="#fff" stroke="#000" stroke-width="1.0"/>
<circle cx="141.60" cy="570.20" r="2.0" fill="#fff" stroke="#000" stroke-width="1.0"/>
<circle cx="149.20" cy="563.00" r="2.0" fill="#fff" stroke="#000" stroke-width="1.0"/>
<circle cx="159.10" cy="555.00" r="2.0" fill="#fff" stroke="#000" stroke-width="1.0"/>
<circle cx="166.70" cy="542.90" r="2.0" fill="#fff" stroke="#000" stroke-width="1.0"/>
<polygon points="96.50,581.63 94.20,585.61 98.80,585.61" fill="#000"/>
<polyline points="46.70,583.00 96.50,580.90 106.70,575.00 114.10,565.60 124.00,553.00 131.50,531.80" fill="none" stroke="#000" stroke-width="1.2" stroke-linejoin="round" stroke-dasharray="3.0 2.0"/>
<line x1="114.10" y1="562.70" x2="114.10" y2="568.80" stroke="#000" stroke-width="0.8"/>
<line x1="112.60" y1="562.70" x2="115.60" y2="562.70" stroke="#000" stroke-width="0.8"/>
<line x1="112.60" y1="568.80" x2="115.60" y2="568.80" stroke="#000" stroke-width="0.8"/>
<line x1="124.00" y1="547.60" x2="124.00" y2="557.90" stroke="#000" stroke-width="0.8"/>
<line x1="122.50" y1="547.60" x2="125.50" y2="547.60" stroke="#000" stroke-width="0.8"/>
<line x1="122.50" y1="557.90" x2="125.50" y2="557.90" stroke="#000" stroke-width="0.8"/>
<line x1="131.50" y1="523.50" x2="131.50" y2="537.60" stroke="#000" stroke-width="0.8"/>
<line x1="130.00" y1="523.50" x2="133.00" y2="523.50" stroke="#000" stroke-width="0.8"/>
<line x1="130.00" y1="537.60" x2="133.00" y2="537.60" stroke="#000" stroke-width="0.8"/>
<rect x="44.60" y="580.90" width="4.2" height="4.2" fill="#000"/>
<rect x="94.40" y="578.80" width="4.2" height="4.2" fill="#000"/>
<rect x="104.60" y="572.90" width="4.2" height="4.2" fill="#000"/>
<rect x="112.00" y="563.50" width="4.2" height="4.2" fill="#000"/>
<rect x="121.90" y="550.90" width="4.2" height="4.2" fill="#000"/>
<rect x="129.40" y="529.70" width="4.2" height="4.2" fill="#000"/>
<circle cx="46.70" cy="584.10" r="2.2" fill="#000"/>
<circle cx="166.00" cy="500.00" r="1.1" fill="#1a1a1a"/>
<circle cx="169.55" cy="500.00" r="1.1" fill="#1a1a1a"/>
<circle cx="173.10" cy="500.00" r="1.1" fill="#1a1a1a"/>
<circle cx="166.00" cy="511.60" r="1.1" fill="#1a1a1a"/>
<circle cx="169.55" cy="511.60" r="1.1" fill="#1a1a1a"/>
<circle cx="173.10" cy="511.60" r="1.1" fill="#1a1a1a"/>
<polyline points="185.60,493.80 181.20,493.80 181.20,504.60 185.60,504.60" fill="none" stroke="#000" stroke-width="1.5" stroke-linejoin="round"/>
<polyline points="185.60,506.20 181.20,506.20 181.20,516.40 185.60,516.40" fill="none" stroke="#000" stroke-width="1.5" stroke-linejoin="round"/>
<line x1="190.60" y1="494.10" x2="192.80" y2="494.10" stroke="#000" stroke-width="1.1"/>
<line x1="199.60" y1="494.10" x2="201.40" y2="494.10" stroke="#000" stroke-width="1.1"/>
<rect x="194.20" y="492.20" width="3.8" height="3.8" fill="#000"/>
<text x="207.60" y="496.70" font-size="7.3" font-weight="400" text-anchor="start" fill="#151515" stroke="#151515" stroke-width="0.25" >Control Fc</text>
<line x1="190.60" y1="505.40" x2="201.40" y2="505.40" stroke="#000" stroke-width="1.1"/>
<polygon points="196.10,503.09 193.95,506.82 198.25,506.82" fill="#000"/>
<text x="207.60" y="508.00" font-size="7.3" font-weight="400" text-anchor="start" fill="#151515" stroke="#151515" stroke-width="0.25" >SIRP<tspan font-family="DejaVu Sans">α</tspan>Fc</text>
<line x1="190.60" y1="516.70" x2="201.40" y2="516.70" stroke="#000" stroke-width="1.1"/>
<circle cx="196.10" cy="516.70" r="2.0" fill="#fff" stroke="#000" stroke-width="1.0"/>
<text x="207.60" y="519.30" font-size="7.3" font-weight="400" text-anchor="start" fill="#151515" stroke="#151515" stroke-width="0.25" >Rituximab</text>
<line x1="320.40" y1="490.00" x2="320.40" y2="589.40" stroke="#000" stroke-width="1.3"/>
<line x1="317.90" y1="588.90" x2="320.40" y2="588.90" stroke="#000" stroke-width="1.3"/>
<text x="317.40" y="591.56" font-size="7.4" font-weight="700" text-anchor="end" fill="#000" stroke="#000" stroke-width="0.22" >0</text>
<line x1="317.90" y1="564.30" x2="320.40" y2="564.30" stroke="#000" stroke-width="1.3"/>
<text x="317.40" y="566.96" font-size="7.4" font-weight="700" text-anchor="end" fill="#000" stroke="#000" stroke-width="0.22" >500</text>
<line x1="317.90" y1="539.70" x2="320.40" y2="539.70" stroke="#000" stroke-width="1.3"/>
<text x="317.40" y="542.36" font-size="7.4" font-weight="700" text-anchor="end" fill="#000" stroke="#000" stroke-width="0.22" >1,000</text>
<line x1="317.90" y1="515.10" x2="320.40" y2="515.10" stroke="#000" stroke-width="1.3"/>
<text x="317.40" y="517.76" font-size="7.4" font-weight="700" text-anchor="end" fill="#000" stroke="#000" stroke-width="0.22" >1,500</text>
<line x1="317.90" y1="490.50" x2="320.40" y2="490.50" stroke="#000" stroke-width="1.3"/>
<text x="317.40" y="493.16" font-size="7.4" font-weight="700" text-anchor="end" fill="#000" stroke="#000" stroke-width="0.22" >2,000</text>
<line x1="319.90" y1="588.90" x2="468.80" y2="588.90" stroke="#000" stroke-width="1.3"/>
<line x1="320.80" y1="588.90" x2="320.80" y2="591.10" stroke="#000" stroke-width="1.0"/>
<text x="320.80" y="599.60" font-size="7.4" font-weight="700" text-anchor="middle" fill="#000" stroke="#000" stroke-width="0.22" >0</text>
<line x1="357.80" y1="588.90" x2="357.80" y2="591.10" stroke="#000" stroke-width="1.0"/>
<text x="357.80" y="599.60" font-size="7.4" font-weight="700" text-anchor="middle" fill="#000" stroke="#000" stroke-width="0.22" >10</text>
<line x1="394.80" y1="588.90" x2="394.80" y2="591.10" stroke="#000" stroke-width="1.0"/>
<text x="394.80" y="599.60" font-size="7.4" font-weight="700" text-anchor="middle" fill="#000" stroke="#000" stroke-width="0.22" >20</text>
<line x1="431.80" y1="588.90" x2="431.80" y2="591.10" stroke="#000" stroke-width="1.0"/>
<text x="431.80" y="599.60" font-size="7.4" font-weight="700" text-anchor="middle" fill="#000" stroke="#000" stroke-width="0.22" >30</text>
<line x1="468.80" y1="588.90" x2="468.80" y2="591.10" stroke="#000" stroke-width="1.0"/>
<text x="468.80" y="599.60" font-size="7.4" font-weight="700" text-anchor="middle" fill="#000" stroke="#000" stroke-width="0.22" >40</text>
<text x="394.80" y="611.70" font-size="8.2" font-weight="400" text-anchor="middle" fill="#151515" stroke="#151515" stroke-width="0.25" >Day post-engraftment</text>
<text transform="translate(295.64,539.70) rotate(-90)" x="0" y="0" font-size="7.9" font-weight="700" text-anchor="middle" stroke="#000" stroke-width="0.22">Tumor volume (mm<tspan font-size="5.2" dy="-3.2">3</tspan><tspan dy="3.2">)</tspan></text>
<text x="395.10" y="468.10" font-size="9.6" font-weight="700" text-anchor="middle" fill="#000" stroke="#000" stroke-width="0.22" >B Lymphoma</text>
<text x="395.10" y="478.50" font-size="9.6" font-weight="700" text-anchor="middle" fill="#000" stroke="#000" stroke-width="0.22" >(A20)</text>
<text x="349.70" y="511.80" font-size="6.3" font-weight="400" text-anchor="start" fill="#151515" stroke="#151515" stroke-width="0.25" >Dosing window</text>
<circle cx="346.5" cy="514.7" r="0.9" fill="#222"/>
<circle cx="357.8" cy="514.7" r="0.9" fill="#222"/>
<circle cx="372.6" cy="514.7" r="0.9" fill="#222"/>
<circle cx="383.9" cy="514.7" r="0.9" fill="#222"/>
<circle cx="398.4" cy="514.7" r="0.9" fill="#222"/>
<path d="M339.20,589.00 C341.63,588.07 340.20,589.53 346.50,586.20 C352.80,582.87 351.80,582.03 358.10,579.00 C364.40,575.97 360.60,577.93 365.40,577.10 C370.20,576.27 366.40,576.80 372.50,576.50 C378.60,576.20 377.43,576.30 383.70,576.20 C389.97,576.10 386.37,576.93 391.30,576.20 C396.23,575.47 392.53,573.47 398.50,574.00 C404.47,574.53 401.73,577.17 409.20,577.80 C416.67,578.43 412.00,578.87 420.90,575.90 C429.80,572.93 430.90,571.23 435.90,568.90" fill="none" stroke="#000" stroke-width="1.2"/>
<line x1="383.70" y1="573.50" x2="383.70" y2="579.00" stroke="#000" stroke-width="0.8"/>
<line x1="382.20" y1="573.50" x2="385.20" y2="573.50" stroke="#000" stroke-width="0.8"/>
<line x1="382.20" y1="579.00" x2="385.20" y2="579.00" stroke="#000" stroke-width="0.8"/>
<line x1="391.30" y1="571.50" x2="391.30" y2="580.00" stroke="#000" stroke-width="0.8"/>
<line x1="389.80" y1="571.50" x2="392.80" y2="571.50" stroke="#000" stroke-width="0.8"/>
<line x1="389.80" y1="580.00" x2="392.80" y2="580.00" stroke="#000" stroke-width="0.8"/>
<line x1="398.50" y1="567.50" x2="398.50" y2="581.50" stroke="#000" stroke-width="0.8"/>
<line x1="397.00" y1="567.50" x2="400.00" y2="567.50" stroke="#000" stroke-width="0.8"/>
<line x1="397.00" y1="581.50" x2="400.00" y2="581.50" stroke="#000" stroke-width="0.8"/>
<line x1="409.20" y1="575.50" x2="409.20" y2="580.00" stroke="#000" stroke-width="0.8"/>
<line x1="407.70" y1="575.50" x2="410.70" y2="575.50" stroke="#000" stroke-width="0.8"/>
<line x1="407.70" y1="580.00" x2="410.70" y2="580.00" stroke="#000" stroke-width="0.8"/>
<line x1="420.90" y1="570.00" x2="420.90" y2="581.00" stroke="#000" stroke-width="0.8"/>
<line x1="419.40" y1="570.00" x2="422.40" y2="570.00" stroke="#000" stroke-width="0.8"/>
<line x1="419.40" y1="581.00" x2="422.40" y2="581.00" stroke="#000" stroke-width="0.8"/>
<line x1="435.90" y1="559.40" x2="435.90" y2="577.30" stroke="#000" stroke-width="0.8"/>
<line x1="434.40" y1="559.40" x2="437.40" y2="559.40" stroke="#000" stroke-width="0.8"/>
<line x1="434.40" y1="577.30" x2="437.40" y2="577.30" stroke="#000" stroke-width="0.8"/>
<polygon points="339.20,586.53 336.90,590.51 341.50,590.51" fill="#000"/>
<polygon points="346.50,583.73 344.20,587.71 348.80,587.71" fill="#000"/>
<polygon points="358.10,576.53 355.80,580.51 360.40,580.51" fill="#000"/>
<polygon points="365.40,574.63 363.10,578.61 367.70,578.61" fill="#000"/>
<polygon points="372.50,574.03 370.20,578.01 374.80,578.01" fill="#000"/>
<polygon points="383.70,573.73 381.40,577.71 386.00,577.71" fill="#000"/>
<polygon points="391.30,573.73 389.00,577.71 393.60,577.71" fill="#000"/>
<polygon points="398.50,571.53 396.20,575.51 400.80,575.51" fill="#000"/>
<polygon points="409.20,575.33 406.90,579.31 411.50,579.31" fill="#000"/>
<polygon points="420.90,573.43 418.60,577.41 423.20,577.41" fill="#000"/>
<polygon points="435.90,566.43 433.60,570.41 438.20,570.41" fill="#000"/>
<polyline points="339.20,589.00 346.50,586.20 358.10,570.40 365.40,568.10 372.50,559.20 383.70,546.90 391.30,540.60" fill="none" stroke="#000" stroke-width="1.2" stroke-linejoin="round" stroke-dasharray="3.0 2.0"/>
<line x1="358.10" y1="568.30" x2="358.10" y2="572.70" stroke="#000" stroke-width="0.8"/>
<line x1="356.60" y1="568.30" x2="359.60" y2="568.30" stroke="#000" stroke-width="0.8"/>
<line x1="356.60" y1="572.70" x2="359.60" y2="572.70" stroke="#000" stroke-width="0.8"/>
<line x1="365.40" y1="565.80" x2="365.40" y2="571.20" stroke="#000" stroke-width="0.8"/>
<line x1="363.90" y1="565.80" x2="366.90" y2="565.80" stroke="#000" stroke-width="0.8"/>
<line x1="363.90" y1="571.20" x2="366.90" y2="571.20" stroke="#000" stroke-width="0.8"/>
<line x1="372.50" y1="555.00" x2="372.50" y2="563.10" stroke="#000" stroke-width="0.8"/>
<line x1="371.00" y1="555.00" x2="374.00" y2="555.00" stroke="#000" stroke-width="0.8"/>
<line x1="371.00" y1="563.10" x2="374.00" y2="563.10" stroke="#000" stroke-width="0.8"/>
<line x1="383.70" y1="539.60" x2="383.70" y2="553.10" stroke="#000" stroke-width="0.8"/>
<line x1="382.20" y1="539.60" x2="385.20" y2="539.60" stroke="#000" stroke-width="0.8"/>
<line x1="382.20" y1="553.10" x2="385.20" y2="553.10" stroke="#000" stroke-width="0.8"/>
<line x1="391.30" y1="530.00" x2="391.30" y2="551.20" stroke="#000" stroke-width="0.8"/>
<line x1="389.80" y1="530.00" x2="392.80" y2="530.00" stroke="#000" stroke-width="0.8"/>
<line x1="389.80" y1="551.20" x2="392.80" y2="551.20" stroke="#000" stroke-width="0.8"/>
<rect x="337.10" y="586.90" width="4.2" height="4.2" fill="#000"/>
<rect x="344.40" y="584.10" width="4.2" height="4.2" fill="#000"/>
<rect x="356.00" y="568.30" width="4.2" height="4.2" fill="#000"/>
<rect x="363.30" y="566.00" width="4.2" height="4.2" fill="#000"/>
<rect x="370.40" y="557.10" width="4.2" height="4.2" fill="#000"/>
<rect x="381.60" y="544.80" width="4.2" height="4.2" fill="#000"/>
<rect x="389.20" y="538.50" width="4.2" height="4.2" fill="#000"/>
<circle cx="321.00" cy="588.90" r="2.2" fill="#000"/>
<circle cx="447.80" cy="508.00" r="0.95" fill="#333"/>
<circle cx="451.20" cy="508.00" r="0.95" fill="#333"/>
<circle cx="454.60" cy="508.00" r="0.95" fill="#333"/>
<polyline points="467.40,501.80 463.60,501.80 463.60,513.20 467.40,513.20" fill="none" stroke="#000" stroke-width="1.5" stroke-linejoin="round"/>
<line x1="470.40" y1="502.30" x2="480.80" y2="502.30" stroke="#000" stroke-width="1.1"/>
<polygon points="476.00,499.99 473.85,503.72 478.15,503.72" fill="#000"/>
<line x1="470.60" y1="512.90" x2="472.80" y2="512.90" stroke="#000" stroke-width="1.1"/>
<line x1="479.00" y1="512.90" x2="480.80" y2="512.90" stroke="#000" stroke-width="1.1"/>
<rect x="474.00" y="511.00" width="3.8" height="3.8" fill="#000"/>
<text x="486.50" y="505.00" font-size="7.3" font-weight="400" text-anchor="start" fill="#151515" stroke="#151515" stroke-width="0.25" >SIRP<tspan font-family="DejaVu Sans">α</tspan> Fc</text>
<text x="486.50" y="515.60" font-size="7.3" font-weight="400" text-anchor="start" fill="#151515" stroke="#151515" stroke-width="0.25" >Vehicle</text>
</svg></body></html>
